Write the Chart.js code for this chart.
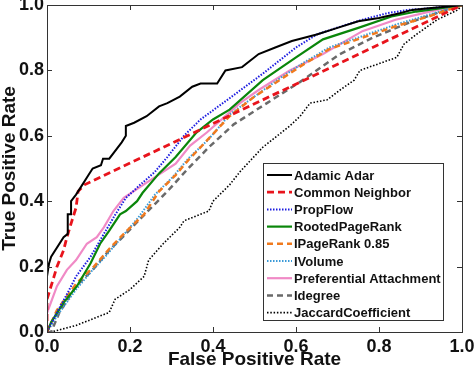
<!DOCTYPE html>
<html>
<head>
<meta charset="utf-8">
<script src="https://cdn.jsdelivr.net/npm/chart.js@4/dist/chart.umd.min.js"></script>
<style>
  html, body { margin: 0; padding: 0; background: #fff; }
  #wrap { width: 474px; height: 369px; position: relative; }
</style>
</head>
<body>
<div id="wrap"><canvas id="roc"></canvas></div>
<script>
// ROC curves (false positive rate vs true positive rate)
const xTicks = [0, 0.2, 0.4, 0.6, 0.8, 1.0];
const yTicks = [0, 0.2, 0.4, 0.6, 0.8, 1.0];

const adamicFpr = [0, 0, 0.005, 0.01, 0.04, 0.05, 0.05, 0.058, 0.058, 0.07, 0.08, 0.10, 0.11, 0.13, 0.135, 0.15, 0.18, 0.19, 0.19, 0.21, 0.24, 0.27, 0.29, 0.32, 0.35, 0.37, 0.41, 0.43, 0.47, 0.51, 0.55, 0.59, 0.65, 0.70, 0.75, 0.80, 0.85, 0.88, 0.92, 0.96, 1];
const adamicTpr = [0, 0.17, 0.21, 0.23, 0.29, 0.30, 0.36, 0.36, 0.40, 0.42, 0.44, 0.48, 0.50, 0.51, 0.53, 0.53, 0.58, 0.60, 0.63, 0.64, 0.66, 0.69, 0.70, 0.72, 0.75, 0.76, 0.76, 0.80, 0.81, 0.85, 0.87, 0.89, 0.91, 0.93, 0.95, 0.96, 0.975, 0.985, 0.99, 0.995, 1];

const commonFpr = [0, 0, 0.017, 0.024, 0.04, 0.048, 0.06, 0.07, 0.075, 0.09, 1];
const commonTpr = [0, 0.10, 0.17, 0.20, 0.25, 0.29, 0.34, 0.38, 0.43, 0.45, 1];

const propFpr = [0, 0.024, 0.05, 0.07, 0.105, 0.137, 0.165, 0.19, 0.22, 0.26, 0.29, 0.33, 0.37, 0.44, 0.52, 0.60, 0.65, 0.71, 0.76, 0.82, 0.87, 0.92, 1];
const propTpr = [0, 0.06, 0.12, 0.17, 0.23, 0.30, 0.36, 0.41, 0.445, 0.49, 0.535, 0.60, 0.65, 0.715, 0.79, 0.87, 0.91, 0.935, 0.955, 0.975, 0.985, 0.99, 1];

const rootedFpr = [0, 0.01, 0.04, 0.072, 0.105, 0.128, 0.15, 0.176, 0.19, 0.217, 0.23, 0.27, 0.31, 0.36, 0.40, 0.44, 0.52, 0.60, 0.665, 0.75, 0.83, 0.89, 0.95, 1];
const rootedTpr = [0, 0.03, 0.09, 0.14, 0.21, 0.27, 0.31, 0.36, 0.37, 0.40, 0.425, 0.485, 0.535, 0.61, 0.65, 0.68, 0.77, 0.84, 0.895, 0.93, 0.965, 0.98, 0.99, 1];

const ipageFpr = [0, 0.024, 0.072, 0.113, 0.154, 0.193, 0.234, 0.27, 0.31, 0.34, 0.385, 0.44, 0.50, 0.56, 0.62, 0.68, 0.76, 0.84, 0.92, 1];
const ipageTpr = [0, 0.067, 0.15, 0.20, 0.26, 0.31, 0.36, 0.43, 0.48, 0.525, 0.585, 0.66, 0.72, 0.77, 0.82, 0.865, 0.90, 0.935, 0.965, 1];

const ivolFpr = [0, 0.03, 0.07, 0.11, 0.14, 0.18, 0.22, 0.26, 0.30, 0.34, 0.39, 0.44, 0.50, 0.56, 0.62, 0.68, 0.76, 0.84, 0.92, 1];
const ivolTpr = [0, 0.06, 0.13, 0.19, 0.23, 0.29, 0.35, 0.42, 0.47, 0.53, 0.59, 0.665, 0.72, 0.775, 0.825, 0.87, 0.905, 0.94, 0.97, 1];

const prefFpr = [0, 0, 0.024, 0.048, 0.07, 0.096, 0.12, 0.137, 0.16, 0.185, 0.25, 0.31, 0.345, 0.385, 0.425, 0.465, 0.51, 0.585, 0.665, 0.76, 0.84, 0.94, 1];
const prefTpr = [0, 0.058, 0.14, 0.19, 0.22, 0.27, 0.29, 0.32, 0.37, 0.41, 0.465, 0.515, 0.57, 0.61, 0.655, 0.70, 0.74, 0.80, 0.85, 0.92, 0.955, 0.985, 1];

const idegFpr = [0, 0.01, 0.03, 0.07, 0.11, 0.15, 0.19, 0.22, 0.29, 0.34, 0.39, 0.45, 0.53, 0.61, 0.706, 0.785, 0.87, 0.95, 1];
const idegTpr = [0, 0.0, 0.06, 0.14, 0.19, 0.25, 0.30, 0.34, 0.43, 0.50, 0.565, 0.635, 0.70, 0.765, 0.85, 0.90, 0.945, 0.98, 1];

const jaccFpr = [0, 0.01, 0.07, 0.11, 0.15, 0.164, 0.2, 0.234, 0.245, 0.28, 0.32, 0.33, 0.39, 0.40, 0.44, 0.465, 0.52, 0.585, 0.61, 0.634, 0.675, 0.706, 0.74, 0.754, 0.843, 0.86, 0.89, 0.94, 0.99, 1];
const jaccTpr = [0, 0, 0.02, 0.04, 0.06, 0.10, 0.13, 0.17, 0.22, 0.27, 0.32, 0.34, 0.37, 0.40, 0.45, 0.49, 0.565, 0.63, 0.66, 0.70, 0.71, 0.74, 0.77, 0.80, 0.84, 0.88, 0.91, 0.955, 0.985, 1];

function pts(xs, ys) {
  return xs.map((x, i) => ({ x, y: ys[i] }));
}

function series(label, xs, ys, color, width, dash) {
  return {
    label,
    data: pts(xs, ys),
    borderColor: color,
    backgroundColor: color,
    borderWidth: width,
    borderDash: dash,
    pointRadius: 0,
    tension: 0,
    fill: false
  };
}

const datasets = [
  series("Adamic Adar", adamicFpr, adamicTpr, "#000000", 2, []),
  series("Common Neighbor", commonFpr, commonTpr, "#e8141c", 2.8, [7, 4]),
  series("PropFlow", propFpr, propTpr, "#1c1ce0", 2, [1.5, 1.5]),
  series("RootedPageRank", rootedFpr, rootedTpr, "#0a860a", 2.2, []),
  series("IPageRank 0.85", ipageFpr, ipageTpr, "#f07a1e", 2.5, [6, 4]),
  series("IVolume", ivolFpr, ivolTpr, "#3a9ad8", 2, [1.5, 1.5]),
  series("Preferential Attachment", prefFpr, prefTpr, "#f08ac6", 2.2, []),
  series("Idegree", idegFpr, idegTpr, "#6a6a6a", 2.5, [6, 4]),
  series("JaccardCoefficient", jaccFpr, jaccTpr, "#000000", 1.6, [1.5, 1.8])
];

// box round the plot with inward ticks, like the original
const boxPlugin = {
  id: "boxTicks",
  afterDatasetsDraw(chart) {
    const { ctx, chartArea: a, scales } = chart;
    ctx.save();
    ctx.strokeStyle = "#333";
    ctx.lineWidth = 1;
    ctx.strokeRect(a.left + 0.5, a.top + 0.5, a.right - a.left, a.bottom - a.top);
    ctx.beginPath();
    xTicks.forEach(v => {
      const px = Math.round(scales.x.getPixelForValue(v)) + 0.5;
      ctx.moveTo(px, a.bottom); ctx.lineTo(px, a.bottom - 5);
      ctx.moveTo(px, a.top); ctx.lineTo(px, a.top + 5);
    });
    yTicks.forEach(v => {
      const py = Math.round(scales.y.getPixelForValue(v)) + 0.5;
      ctx.moveTo(a.left, py); ctx.lineTo(a.left + 5, py);
      ctx.moveTo(a.right, py); ctx.lineTo(a.right - 5, py);
    });
    ctx.stroke();
    ctx.restore();
  }
};

// matlab-style legend box in the lower right corner
const legendPlugin = {
  id: "boxLegend",
  afterDraw(chart) {
    const { ctx, chartArea: a } = chart;
    const w = 180, h = 157;
    const left = a.right - 19 - w;
    const top = a.bottom - 12 - h;
    ctx.save();
    ctx.fillStyle = "#fff";
    ctx.fillRect(left, top, w, h);
    ctx.strokeStyle = "#333";
    ctx.lineWidth = 1;
    ctx.strokeRect(left + 0.5, top + 0.5, w, h);
    ctx.font = "bold 13px 'Liberation Sans', Arial, sans-serif";
    ctx.textBaseline = "middle";
    chart.data.datasets.forEach((ds, i) => {
      const y = top + 12 + i * 17.2;
      ctx.strokeStyle = ds.borderColor;
      ctx.lineWidth = ds.borderWidth;
      ctx.setLineDash(ds.borderDash || []);
      ctx.beginPath();
      ctx.moveTo(left + 4, y);
      ctx.lineTo(left + 29, y);
      ctx.stroke();
      ctx.setLineDash([]);
      ctx.fillStyle = "#111";
      ctx.fillText(ds.label, left + 31, y + 1);
    });
    ctx.restore();
  }
};

const tickFont = { family: "'Liberation Sans', Arial, sans-serif", size: 18, weight: "bold" };
const titleFont = { family: "'Liberation Sans', Arial, sans-serif", size: 19, weight: "bold", lineHeight: 1 };

new Chart(document.getElementById("roc"), {
  type: "line",
  data: { datasets },
  options: {
    responsive: true,
    maintainAspectRatio: false,
    animation: false,
    layout: { padding: { top: 5, right: 12, left: 0, bottom: 0 } },
    plugins: {
      legend: { display: false },
      tooltip: { enabled: false }
    },
    scales: {
      x: {
        type: "linear",
        min: 0,
        max: 1,
        afterBuildTicks: s => { s.ticks = xTicks.map(v => ({ value: v })); },
        ticks: {
          color: "#111",
          font: tickFont,
          padding: 4,
          maxRotation: 0,
          callback: v => v.toFixed(1)
        },
        grid: { display: false, drawTicks: false },
        border: { display: false },
        title: { display: true, text: "False Positive Rate", color: "#111", font: titleFont, padding: 0 },
        afterFit: s => { s.height = 37; s.paddingLeft = 0; s.paddingRight = 0; }
      },
      y: {
        type: "linear",
        min: 0,
        max: 1,
        afterBuildTicks: s => { s.ticks = yTicks.map(v => ({ value: v })); },
        ticks: {
          color: "#111",
          font: tickFont,
          padding: 3,
          callback: v => v.toFixed(1)
        },
        grid: { display: false, drawTicks: false },
        border: { display: false },
        title: { display: true, text: "True Positive Rate", color: "#111", font: titleFont, padding: 0 },
        afterFit: s => { s.width = 47; s.paddingTop = 0; s.paddingBottom = 0; }
      }
    }
  },
  plugins: [boxPlugin, legendPlugin]
});
</script>
</body>
</html>
